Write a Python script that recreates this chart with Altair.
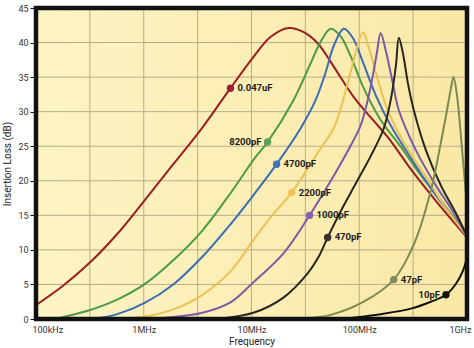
import altair as alt
import pandas as pd

# ---------------- data (frequency in MHz, insertion loss in dB) ----------------
names = ["0.047uF", "8200pF", "4700pF", "2200pF", "1000pF", "470pF", "47pF", "10pF"]
line_colors = ["#9A1D22", "#4D9A47", "#3B6DB4", "#EDC055", "#7A5AA6", "#28271F", "#7D8A52", "#111111"]
dot_colors = ["#A3203C", "#5C9F56", "#3F73BE", "#EEC15E", "#8462AE", "#33322C", "#7F8B5C", "#151515"]

f_047 = [0.1, 0.178, 0.318, 0.567, 1.01, 1.88, 3.5, 6.38, 10.4, 15.0, 22.1, 30.5, 41.1, 54.3, 88.9, 134, 184, 321, 573, 1000]
db_047 = [2.0, 4.8, 8.2, 12.3, 17.1, 22.4, 27.7, 33.4, 37.9, 40.8, 42.1, 41.5, 39.9, 37.2, 32.1, 28.8, 26.3, 21.1, 16.2, 11.8]

f_8200 = [0.15, 0.318, 0.567, 1.01, 1.88, 3.5, 6.38, 10.4, 14.1, 24.6, 35.4, 43.8, 54.3, 67.3, 83.4, 110, 158, 243, 373, 638, 1000]
db_8200 = [0.0, 1.3, 2.8, 5.0, 8.5, 12.8, 18.2, 23.0, 25.6, 31.7, 37.0, 40.1, 42.0, 40.9, 38.0, 33.4, 28.8, 24.9, 20.8, 16.2, 12.0]

f_4700 = [0.339, 0.567, 1.01, 1.88, 3.5, 6.38, 10.4, 17.1, 28.6, 39.4, 48.8, 57.9, 71.8, 87.0, 108, 142, 196, 301, 462, 710, 1000]
db_4700 = [0.0, 0.7, 2.3, 5.0, 9.0, 13.7, 17.9, 22.4, 27.6, 31.7, 35.7, 39.5, 42.0, 40.7, 37.2, 32.4, 28.0, 23.3, 18.9, 15.0, 12.0]

f_2200 = [0.604, 1.15, 1.96, 3.5, 6.38, 10.4, 15.0, 23.6, 43.8, 57.9, 78.2, 92.8, 108, 123, 149, 184, 271, 416, 638, 1000]
db_2200 = [0.0, 0.5, 1.5, 3.5, 6.9, 11.4, 14.7, 18.3, 24.7, 27.6, 34.1, 38.6, 41.5, 39.2, 34.6, 30.2, 25.0, 20.6, 16.0, 12.0]

f_1000 = [1.15, 3.5, 6.38, 10.4, 19.8, 34.6, 60.4, 83.4, 103, 120, 134, 146, 158, 176, 205, 233, 336, 515, 710, 1000]
db_1000 = [0.0, 0.9, 2.4, 5.3, 9.5, 15.0, 21.2, 25.1, 28.0, 31.7, 35.3, 38.6, 41.4, 38.9, 34.1, 30.2, 24.4, 19.3, 16.0, 12.0]

f_470 = [4.62, 10.4, 19.8, 33.2, 42.0, 50.9, 67.3, 92.8, 128, 169, 196, 219, 233, 254, 283, 321, 416, 573, 790, 1000]
db_470 = [0.0, 0.9, 3.1, 6.6, 9.0, 11.8, 15.6, 19.6, 23.6, 27.6, 31.7, 36.7, 40.7, 38.5, 34.1, 30.2, 24.4, 19.3, 15.3, 12.0]

f_47 = [23.1, 54.3, 110, 209, 321, 462, 573, 652, 710, 749, 807, 861, 918, 1000]
db_47 = [0.0, 0.6, 2.5, 5.7, 10.8, 18.6, 25.6, 30.2, 33.4, 35.0, 32.4, 28.0, 23.0, 16.4]

f_10 = [67.3, 158, 301, 462, 638, 790, 918, 1000]
db_10 = [0.0, 0.7, 1.5, 2.5, 3.5, 5.1, 7.0, 8.9]

series_f = [f_047, f_8200, f_4700, f_2200, f_1000, f_470, f_47, f_10]
series_db = [db_047, db_8200, db_4700, db_2200, db_1000, db_470, db_47, db_10]

# marker dots with labels
dot_f = [6.38, 14.1, 17.1, 23.6, 34.6, 50.9, 209, 638]
dot_db = [33.4, 25.6, 22.4, 18.3, 15.0, 11.8, 5.7, 3.5]
label_side = ["right", "left", "right", "right", "right", "right", "right", "left"]

# axes
tick_vals = [0.1, 1, 10, 100, 1000]
tick_text = ["100kHz", "1MHz", "10MHz", "100MHz", "1GHz"]
grid_x = [0.3162, 1, 3.162, 10, 31.62, 100, 316.2]
y_ticks = [0, 5, 10, 15, 20, 25, 30, 35, 40, 45]
grid_y = [5, 10, 15, 20, 25, 30, 35, 40]

# ---------------- tables ----------------
rows = []
for name, fs, ds in zip(names, series_f, series_db):
    for f, d in zip(fs, ds):
        rows.append({"series": name, "f": f, "db": d})
df = pd.DataFrame(rows)

lab = pd.DataFrame({"series": names, "f": dot_f, "db": dot_db,
                    "side": label_side, "dotcolor": dot_colors})

label_expr = " : ".join(
    f"datum.value == {v} ? '{t}'" for v, t in zip(tick_vals, tick_text)
) + " : ''"

W, H = 431, 311
FONT = "Roboto"

xenc = alt.X("f:Q", title="Frequency",
             scale=alt.Scale(type="log", domain=[0.1, 1000], nice=False),
             axis=alt.Axis(values=tick_vals, labelExpr=label_expr, grid=False, ticks=False,
                           domain=False, labelFlush=True, labelFlushOffset=4, labelPadding=6,
                           labelFont=FONT, labelFontSize=9, labelColor="#333333",
                           titleFont=FONT, titleFontSize=10, titleFontWeight="normal",
                           titleColor="#222222", titlePadding=2))
yenc = alt.Y("db:Q", title="Insertion Loss (dB)",
             scale=alt.Scale(domain=[0, 45], nice=False),
             axis=alt.Axis(values=y_ticks, grid=False, domain=False, tickSize=6,
                           tickColor="#111111", tickWidth=1, labelPadding=2,
                           labelFont=FONT, labelFontSize=9, labelColor="#333333",
                           titleFont=FONT, titleFontSize=10, titleFontWeight="normal",
                           titleColor="#222222", titlePadding=5))

one = alt.Data(values=[{"k": 0}])

bg = alt.Chart(one).mark_rect(
    fill=alt.LinearGradient(gradient="linear",
                            stops=[alt.GradientStop(color="#FDF4C4", offset=0),
                                   alt.GradientStop(color="#FAE8A6", offset=1)],
                            x1=0, x2=1, y1=0, y2=0)
).encode(x=alt.value(0), x2=alt.value("width"), y=alt.value(0), y2=alt.value("height"))

gx = alt.Chart(pd.DataFrame({"f": grid_x})).mark_rule(color="#B5AD8E", strokeWidth=1).encode(x=xenc)
gy = alt.Chart(pd.DataFrame({"db": grid_y})).mark_rule(color="#B5AD8E", strokeWidth=1).encode(y=yenc)

lines = alt.Chart(df).mark_line(strokeWidth=2, interpolate="catmull-rom", clip=True).encode(
    x=xenc, y=yenc,
    color=alt.Color("series:N", scale=alt.Scale(domain=names, range=line_colors), legend=None),
)

dots = alt.Chart(lab).mark_circle(size=55, opacity=1).encode(
    x=xenc, y=yenc, color=alt.Color("dotcolor:N", scale=None)
)

txt_r = alt.Chart(lab).transform_filter(alt.datum.side == "right").mark_text(
    align="left", baseline="middle", dx=7, font=FONT, fontWeight="bold", fontSize=9.5, color="#1E1E1E"
).encode(x=xenc, y=yenc, text="series:N")

txt_l = alt.Chart(lab).transform_filter(alt.datum.side == "left").mark_text(
    align="right", baseline="middle", dx=-6, font=FONT, fontWeight="bold", fontSize=9.5, color="#1E1E1E"
).encode(x=xenc, y=yenc, text="series:N")

frame = alt.Chart(one).mark_rect(fillOpacity=0, stroke="#111111", strokeWidth=4.5).encode(
    x=alt.value(0), x2=alt.value("width"), y=alt.value(0), y2=alt.value("height")
)

chart = alt.layer(bg, gx, gy, lines, dots, txt_r, txt_l, frame).properties(
    width=W, height=H,
    autosize=alt.AutoSizeParams(type="none"),
    padding={"left": 36, "top": 8, "right": 7, "bottom": 29},
    background="white",
).configure_view(strokeWidth=0)

chart.save("out.html", embed_options={"renderer": "svg", "actions": False})
